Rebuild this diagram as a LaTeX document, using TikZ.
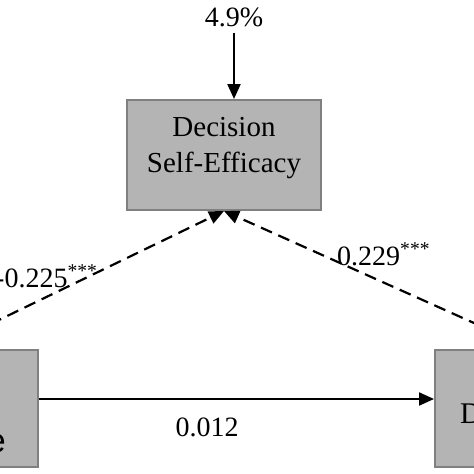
\documentclass[tikz,border=0pt]{standalone}
\usepackage{fontspec}
\setmainfont{Liberation Serif}
\newfontfamily\sansfont{Liberation Sans}
\usetikzlibrary{positioning, arrows.meta}
\definecolor{boxgray}{RGB}{180,180,180}
\definecolor{edgegray}{RGB}{128,128,128}

\begin{document}
\begin{tikzpicture}[x=1pt, y=-1pt,
  varbox/.style={rectangle, draw=edgegray, line width=2pt, fill=boxgray, inner sep=0pt},
  txt/.style={font=\fontsize{28}{36}\selectfont, inner sep=0pt},
  solidarrow/.style={line width=2.2pt, -{Triangle[length=15pt, width=13pt]}},
  dasharrow/.style={solidarrow, dash pattern=on 12pt off 7pt}]

\clip (0,0) rectangle (474,474);

% Variable boxes
\node[varbox, minimum width=194pt, minimum height=110pt] (selfeff) at (224,155) {};
\node[varbox, minimum width=198pt, minimum height=117pt] (pred) at (-61,408.5) {};
\node[varbox, minimum width=194pt, minimum height=117pt] (outc) at (532,408.5) {};

% Box texts
\node[txt, font=\fontsize{29}{36}\selectfont, align=center] (selfefftext) at (224,148.5) {Decision\\Self-Efficacy};
\node[txt, font=\sansfont\fontsize{34}{40}\selectfont, anchor=base east] (predtext) at (6,452) {e};
\node[txt, font=\fontsize{30}{36}\selectfont, anchor=base west] (outctext) at (460,423) {D};

% Explained variance
\node[txt, anchor=base] (rsq) at (234,26) {4.9\%};

% Arrows
\draw[solidarrow, shorten <=6pt] (rsq.south) -- (rsq.south |- selfeff.north);
\draw[dasharrow] (pred.north) -- (selfeff.south);
\draw[dasharrow] (outc.north) -- (selfeff.south);
\draw[solidarrow] ([yshift=9.5pt]pred.east) -- ([yshift=9.5pt]outc.west);

% Path coefficients
\node[txt, anchor=base] (direct) at (207,436) {0.012};
\node[txt, anchor=base west] (patha) at (-5,287) {-0.225\textsuperscript{***}};
\node[txt, anchor=base west] (pathb) at (337,265) {0.229\textsuperscript{***}};

\end{tikzpicture}
\end{document}
